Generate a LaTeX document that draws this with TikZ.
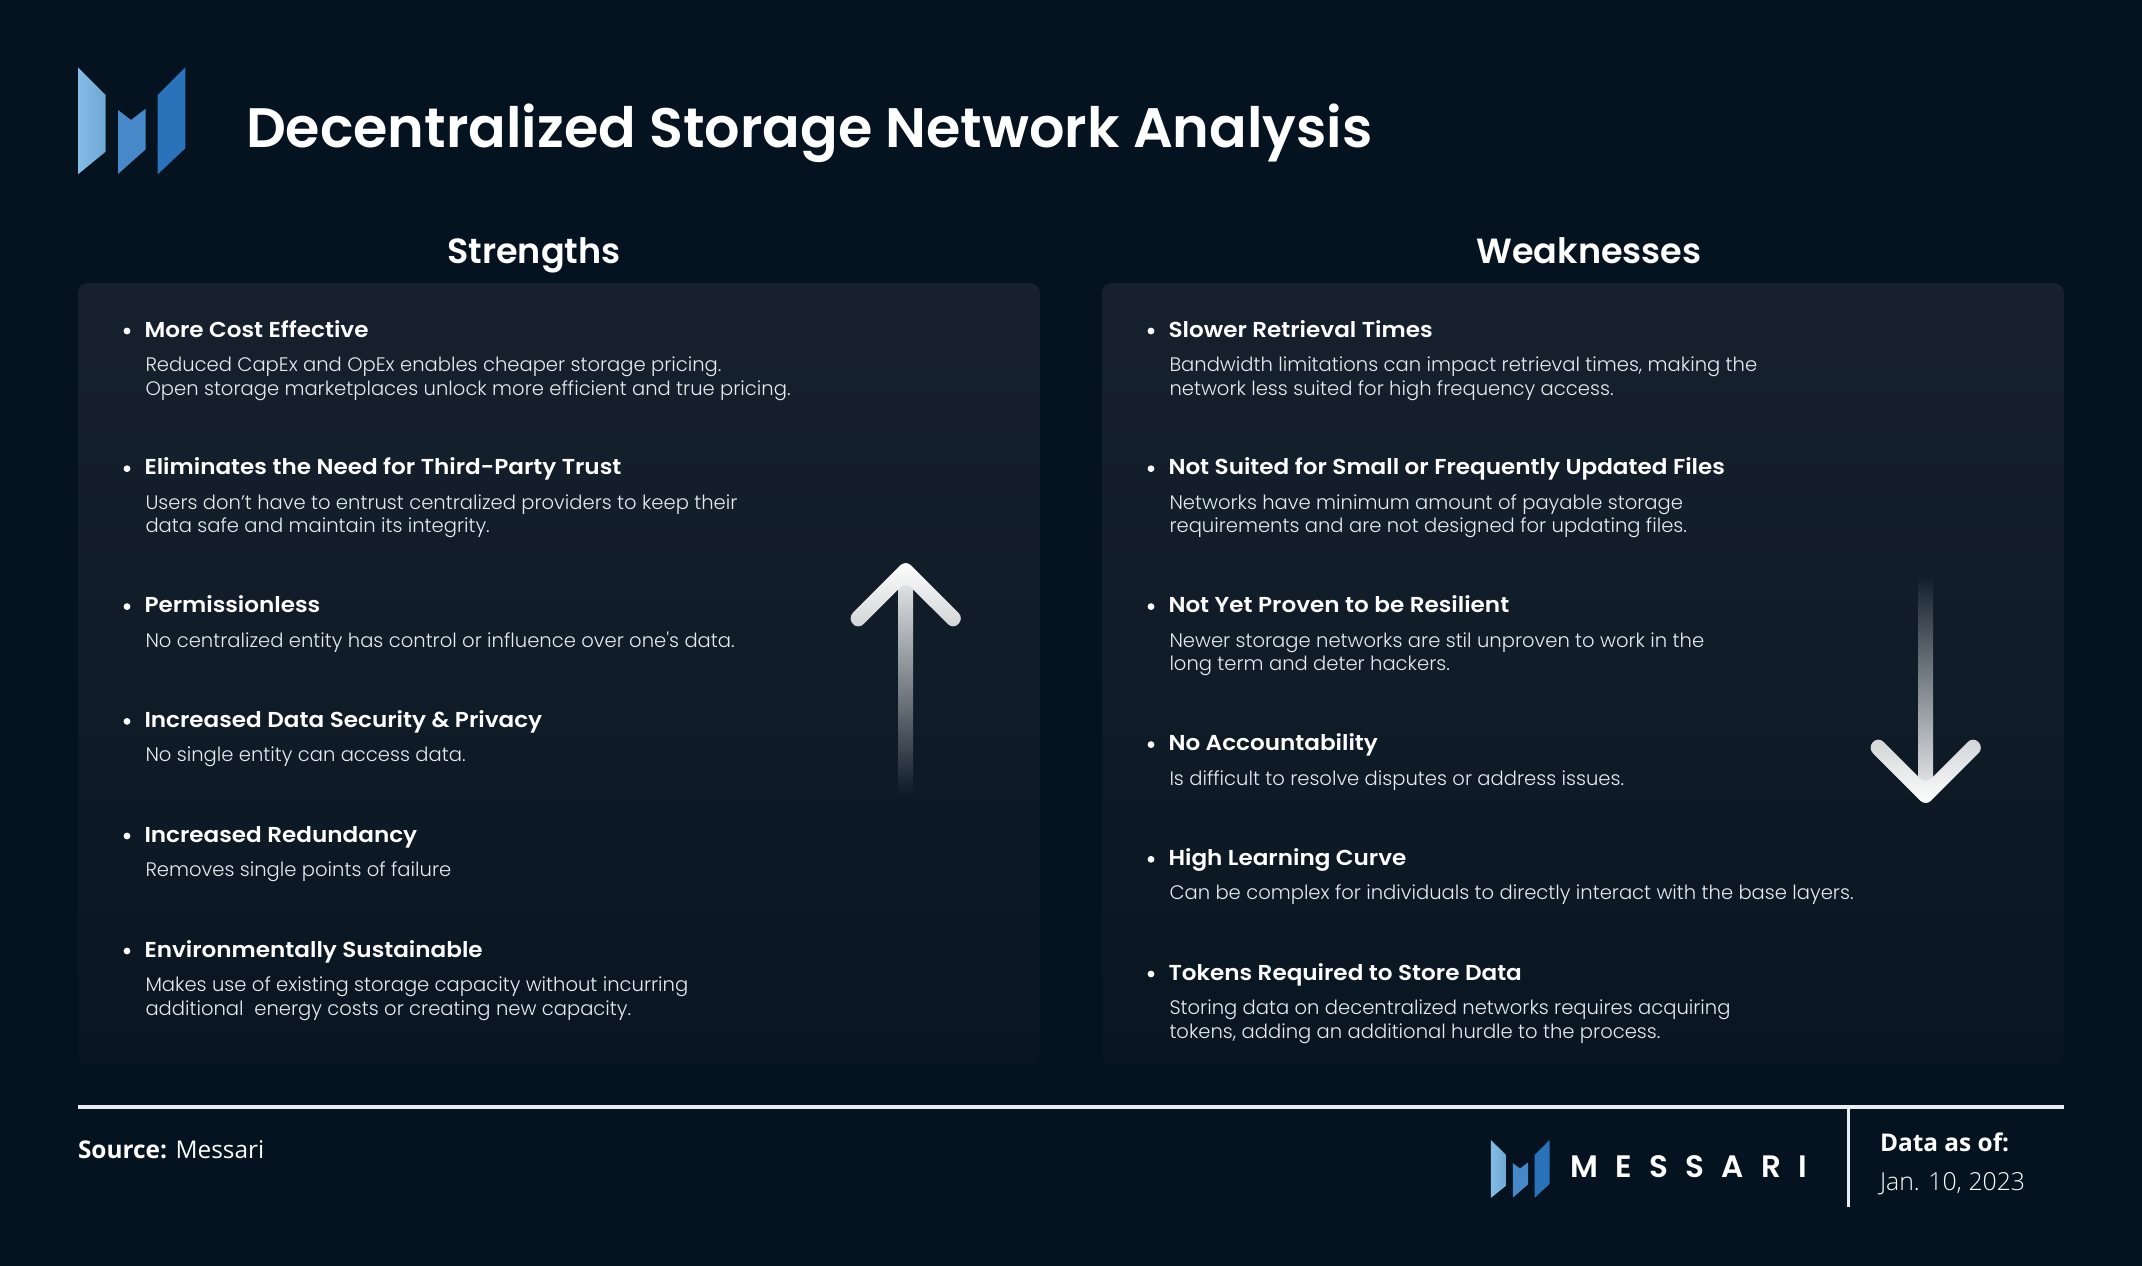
\documentclass[tikz,border=0pt]{standalone}
\usepackage{fontspec}
\setmainfont{Poppins}
\newfontfamily\fsemi{Poppins SemiBold}
\newfontfamily\fhead[FakeStretch=1.07]{Poppins SemiBold}
\newfontfamily\fbody{Poppins Light}
\newfontfamily\fopen{Open Sans}
\newfontfamily\fopenl{Open Sans Light}
\newfontfamily\fbrand[LetterSpace=56]{Poppins SemiBold}
\definecolor{bgc}{HTML}{04131F}
\definecolor{paneltop}{HTML}{16212D}
\definecolor{panelbot}{HTML}{091622}
\definecolor{panelmid}{HTML}{0E1B28}
\definecolor{bodyc}{HTML}{E6EBEF}
\definecolor{logoa}{HTML}{78B6E4}
\definecolor{logob}{HTML}{4688C8}
\definecolor{logoc}{HTML}{2A72BA}
\definecolor{rulec}{HTML}{E9EEF2}
\tikzset{
  panel/.style={rounded corners=5pt,top color=paneltop,middle color=panelmid,bottom color=panelbot,draw=none},
  txt/.style={anchor=base west,inner sep=0pt,outer sep=0pt,text=white},
  itemhead/.style={txt,font=\fhead\fontsize{10.8}{12}\selectfont},
  itembody/.style={txt,text=bodyc,font=\fbody\fontsize{9.78}{12}\selectfont},
  bul/.style={circle,fill=white,inner sep=0pt,minimum size=3.4pt},
  coltitle/.style={anchor=base,inner sep=0pt,text=white,font=\fsemi\fontsize{17.5}{20}\selectfont},
  rulel/.style={draw=rulec,line width=1.85pt},
  arrowhd/.style={draw=none,rounded corners=3.7pt},
}
\newcommand{\itemhd}[4]{%
  \node[bul] (#1b) at (#2,#3-6) {};
  \node[itemhead] (#1h) at (#2+17.5,#3) {#4};}
\newcommand{\itemone}[5]{\itemhd{#1}{#2}{#3}{#4}
  \node[itembody] (#1a) at (#2+18.5,#3+34.5) {#5};}
\newcommand{\itemtwo}[6]{\itemhd{#1}{#2}{#3}{#4}
  \node[itembody] (#1a) at (#2+18.5,#3+34.5) {#5};
  \node[itembody] (#1c) at (#2+18.5,#3+58) {#6};}
\newcommand{\logomark}{%
  \fill[left color=logoa!92!white,right color=logoa!92!black] (78,67.3)--(105.7,95)--(105.7,151.7)--(78,174.3)--cycle;
  \fill[logob] (118,110)--(131,120)--(145.7,108.7)--(145.7,149.3)--(118,174)--cycle;
  \fill[logoc] (185.3,67.3)--(185.3,148.3)--(157.7,174.3)--(157.7,95)--cycle;}
\begin{document}
\begin{tikzpicture}[x=0.5pt,y=-0.5pt]
\useasboundingbox (0,0) rectangle (2142,1265);
\fill[bgc] (-4,-4) rectangle (2146,1270);
\logomark
\node[txt,font=\fsemi\fontsize{27.8}{32}\selectfont] (title) at (246,147) {Decentralized Storage Network Analysis};
\node[coltitle] (strengths) at (534,263) {Strengths};
\node[coltitle] (weaknesses) at (1589,263) {Weaknesses};
\path[panel] (78,283) rectangle (1040,1065);
\path[panel] (1102,283) rectangle (2064,1065);
% left column
\itemtwo{la}{127}{337}{More Cost Effective}{Reduced CapEx and OpEx enables cheaper storage pricing.}{Open storage marketplaces unlock more efficient and true pricing.}
\itemtwo{lb}{127}{474.7}{Eliminates the Need for Third-Party Trust}{Users don’t have to entrust centralized providers to keep their}{data safe and maintain its integrity.}
\itemone{lc}{127}{612.6}{Permissionless}{No centralized entity has control or influence over one's data.}
\itemone{ld}{127}{727.4}{Increased Data Security \& Privacy}{No single entity can access data.}
\itemone{le}{127}{842}{Increased Redundancy}{Removes single points of failure}
\itemtwo{lf}{127}{957}{Environmentally Sustainable}{Makes use of existing storage capacity without incurring}{additional\ \ energy costs or creating new capacity.}
% right column
\itemtwo{ra}{1151}{337}{Slower Retrieval Times}{Bandwidth limitations can impact retrieval times, making the}{network less suited for high frequency access.}
\itemtwo{rb}{1151}{474.7}{Not Suited for Small or Frequently Updated Files}{Networks have minimum amount of payable storage}{requirements and are not designed for updating files.}
\itemtwo{rc}{1151}{612.6}{Not Yet Proven to be Resilient}{Newer storage networks are stil unproven to work in the}{long term and deter hackers.}
\itemone{rd}{1151}{750.6}{No Accountability}{Is difficult to resolve disputes or address issues.}
\itemone{re}{1151}{865.3}{High Learning Curve}{Can be complex for individuals to directly interact with the base layers.}
\itemtwo{rf}{1151}{980}{Tokens Required to Store Data}{Storing data on decentralized networks requires acquiring}{tokens, adding an additional hurdle to the process.}
% up arrow
\shade[top color=white!92!paneltop,bottom color=panelmid] (898.2,572) rectangle (913.2,793);
\path[arrowhd,top color=white,bottom color=white!80!paneltop] (905.7,560)--(963.8,618.1)--(953.3,629.5)--(905.7,582)--(858.1,629.5)--(847.6,618.1)--cycle;
% down arrow
\shade[bottom color=white!92!paneltop,top color=panelmid] (1918.2,573) rectangle (1933.2,795);
\path[arrowhd,bottom color=white,top color=white!80!paneltop] (1925.7,806)--(1983.8,747.9)--(1973.3,736.5)--(1925.7,784)--(1878.1,736.5)--(1867.6,747.9)--cycle;
% footer
\draw[rulel] (78,1106.7)--(2064,1106.7);
\draw[rulel,line width=1.6pt] (1848.5,1106.7)--(1848.5,1206.7);
\node[txt,font=\fopen\fontsize{12.2}{15}\selectfont] (source) at (78,1158) {{\bfseries Source:} Messari};
\begin{scope}[shift={(1448.3,1103.7)},xscale=0.547,yscale=0.54]
\logomark
\end{scope}
\node[txt,font=\fbrand\fontsize{15.5}{18}\selectfont] (brand) at (1570,1177.7) {MESSARI};
\node[txt,font=\fopen\bfseries\fontsize{12.2}{15}\selectfont] (dataas) at (1880,1151) {Data as of:};
\node[txt,font=\fopenl\fontsize{12.4}{15}\selectfont] (datev) at (1880,1190.7) {Jan. 10, 2023};
\end{tikzpicture}
\end{document}
